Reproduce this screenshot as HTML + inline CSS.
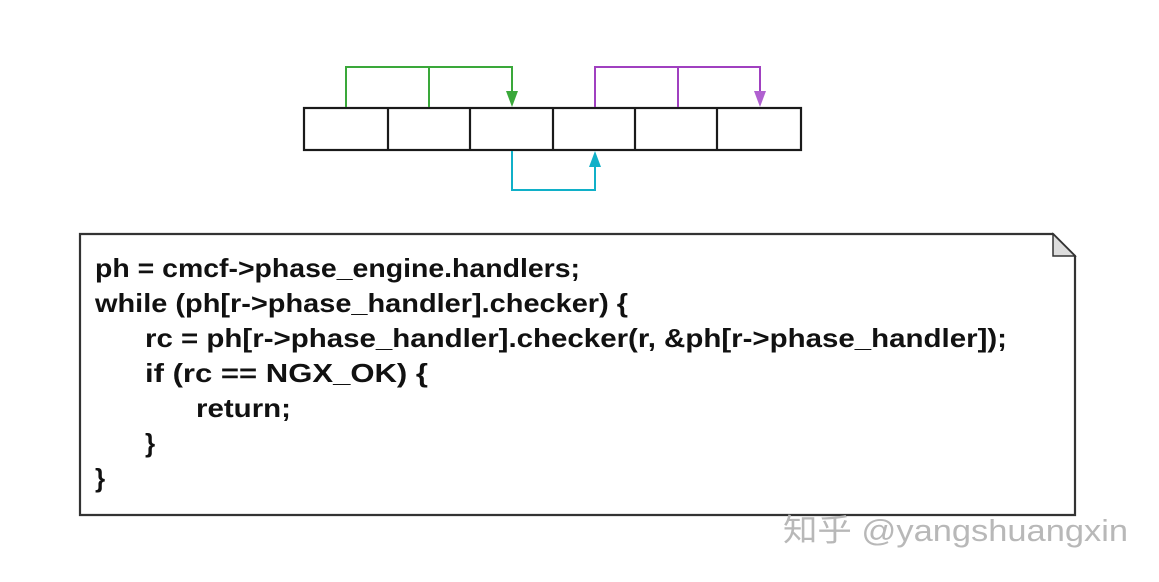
<!DOCTYPE html>
<html><head><meta charset="utf-8"><style>
html,body{margin:0;padding:0;background:#fff;}
svg{display:block}
text{font-family:"Liberation Sans","Noto Sans CJK SC",sans-serif;}
</style></head><body>
<svg width="1159" height="582" viewBox="0 0 1159 582" xmlns="http://www.w3.org/2000/svg">
<g stroke="#1a1a1a" stroke-width="2.2" fill="#fff">
<rect x="304" y="108" width="497" height="42"/>
<line x1="388" y1="108" x2="388" y2="150"/>
<line x1="470" y1="108" x2="470" y2="150"/>
<line x1="553" y1="108" x2="553" y2="150"/>
<line x1="635" y1="108" x2="635" y2="150"/>
<line x1="717" y1="108" x2="717" y2="150"/>
</g>
<g stroke="#3aa83a" stroke-width="2" fill="none">
<polyline points="346,107 346,67 512,67 512,95"/>
<line x1="429" y1="67" x2="429" y2="107"/>
</g>
<polygon points="506,91 518,91 512,107" fill="#3aa83a"/>
<g stroke="#a040c0" stroke-width="2" fill="none">
<polyline points="595,107 595,67 760,67 760,95"/>
<line x1="678" y1="67" x2="678" y2="107"/>
</g>
<polygon points="754,91 766,91 760,107" fill="#b060d0"/>
<g stroke="#10b0c8" stroke-width="2" fill="none">
<polyline points="512,151 512,190 595,190 595,162"/>
</g>
<polygon points="589,167 601,167 595,151" fill="#10b0c8"/>
<path d="M80,234 L1053,234 L1075,256 L1075,515 L80,515 Z" fill="#fff" stroke="#333" stroke-width="2.2"/>
<path d="M1053,234 L1053,256 L1075,256 Z" fill="#ddd" stroke="#333" stroke-width="1.5"/>
<g font-size="26" font-weight="bold" fill="#111">
<text x="95" y="277" textLength="485" lengthAdjust="spacingAndGlyphs">ph = cmcf-&gt;phase_engine.handlers;</text>
<text x="95" y="312" textLength="533" lengthAdjust="spacingAndGlyphs">while (ph[r-&gt;phase_handler].checker) {</text>
<text x="145" y="347" textLength="862" lengthAdjust="spacingAndGlyphs">rc = ph[r-&gt;phase_handler].checker(r, &amp;ph[r-&gt;phase_handler]);</text>
<text x="145" y="382" textLength="283" lengthAdjust="spacingAndGlyphs">if (rc == NGX_OK) {</text>
<text x="196" y="417" textLength="95" lengthAdjust="spacingAndGlyphs">return;</text>
<text x="145" y="452">}</text>
<text x="95" y="487">}</text>
</g>
<text x="783" y="541" font-size="31" fill="#b8b8b8" textLength="345" lengthAdjust="spacingAndGlyphs">知乎 @yangshuangxin</text>
</svg>
</body></html>
